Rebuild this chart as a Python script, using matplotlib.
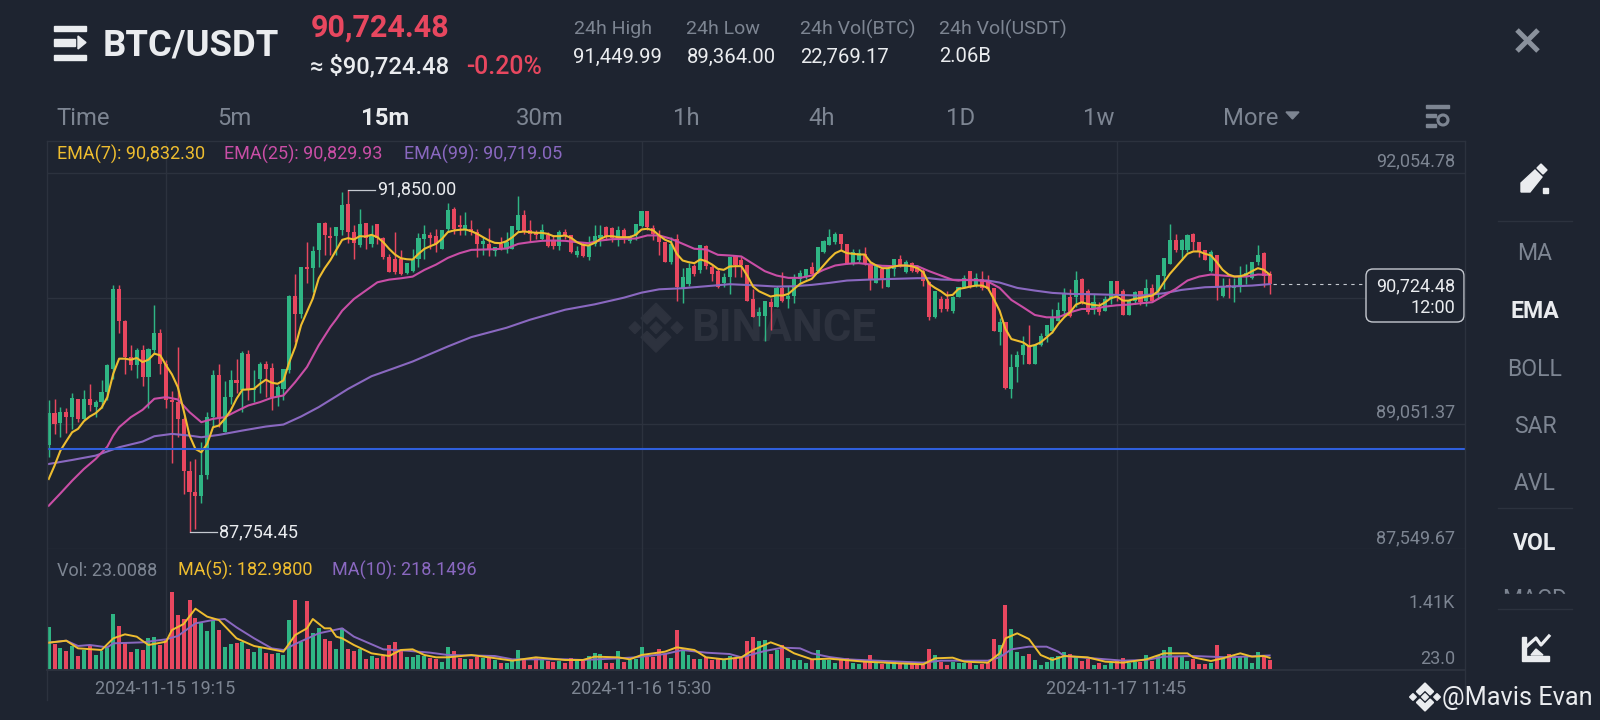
import matplotlib
matplotlib.use("Agg")
import matplotlib.pyplot as plt
from matplotlib.patches import Rectangle, Polygon, FancyBboxPatch
import numpy as np

plt.rcParams['font.family'] = ['Roboto', 'DejaVu Sans']

opens = [88799,89175,89055,89183,89127,89347,89107,89347,89247,89307,
89427,89707,90655,90279,89847,89747,89935,89607,89927,90139,
89767,89327,89307,89107,88487,88227,88187,88439,89127,89627,
88947,89367,89567,89447,89887,89447,89587,89759,89719,89375,
89467,89695,90575,90367,90919,90907,91127,91455,91299,91299,
91361,91673,91341,91193,91449,91201,91441,91273,91049,91021,
91021,90849,90881,91021,91261,91301,91289,91141,91381,91621,
91421,91381,91381,91341,91201,91201,91121,91201,91141,91141,
91361,91541,91361,91341,91261,91301,91249,91181,91341,91301,
91073,91193,91049,91201,91273,91401,91389,91273,91369,91241,
91301,91409,91590,91394,91302,91222,90982,91262,90662,90722,
90930,90890,91170,90922,90882,90730,90810,91050,91002,90942,
90542,90342,90342,90502,90450,90674,90542,90582,90782,90802,
90922,90882,91102,91182,91222,91322,91202,90962,91002,91082,
90962,90730,90902,90690,90902,91022,90862,90970,90922,90882,
90742,90322,90542,90542,90402,90570,90682,90874,90702,90782,
90762,90674,90142,90262,89462,89722,89874,89994,89762,89994,
90102,90162,90282,90402,90562,90562,90782,90642,90434,90434,
90402,90542,90762,90642,90354,90522,90634,90522,90674,90634,
90822,90962,91250,91122,91130,91314,91222,91122,90874,91062,
90582,90702,90674,90690,90822,90794,90982,91090,90842]

closes = [89175,89047,89183,89135,89351,89107,89347,89267,89307,89427,
89747,90655,90279,89847,89747,89935,89607,89947,90139,89767,
89327,89303,89107,88487,88227,88187,88439,89135,89627,89107,
89367,89567,89535,89895,89447,89467,89759,89707,89367,89487,
89707,90575,90367,90919,90895,91119,91455,91307,91275,91407,
91661,91341,91213,91441,91273,91301,91273,91049,90861,90861,
90841,90969,91021,91273,91321,91273,91201,91369,91609,91381,
91401,91421,91341,91201,91241,91141,91169,91141,91221,91409,
91541,91341,91321,91301,91361,91181,91181,91341,91301,91101,
91121,91061,91181,91289,91301,91281,91273,91361,91273,91289,
91441,91593,91402,91322,91222,90982,91202,90682,90802,90914,
90842,91182,90930,90842,90690,90802,91042,90942,90942,90522,
90322,90382,90522,90450,90674,90522,90582,90782,90850,90902,
90842,91162,91234,91282,91322,91194,90970,91102,91090,90970,
90782,90930,90782,90902,91022,90942,90982,90882,90862,90762,
90322,90642,90422,90422,90570,90682,90794,90682,90794,90674,
90662,90162,90262,89474,89722,89874,89994,89762,89994,90102,
90234,90314,90410,90610,90342,90770,90502,90382,90502,90382,
90542,90762,90602,90354,90522,90622,90502,90674,90522,90834,
91034,91242,91122,91250,91302,91222,91114,91010,91102,90682,
90702,90690,90702,90822,90850,90982,91062,90822,90724.48]

highs = [89327,89343,89247,89239,89415,89347,89447,89527,89327,89575,
89767,90703,90703,90295,89991,89959,89991,89959,90475,90187,
89807,89435,89967,89127,88599,88627,88827,89187,89687,89759,
89559,89695,89827,89919,89935,89687,89787,89799,89775,89507,
89707,90583,90839,90927,91227,91175,91455,91459,91399,91407,
91821,91850,91421,91621,91449,91421,91441,91281,91081,91341,
91129,90969,91141,91329,91421,91341,91381,91369,91689,91641,
91541,91581,91489,91381,91281,91393,91169,91281,91341,91409,
91769,91609,91489,91361,91441,91341,91301,91369,91381,91301,
91181,91221,91289,91421,91421,91409,91401,91409,91393,91301,
91441,91593,91590,91422,91362,91222,91282,91314,90914,90970,
90962,91182,91182,90942,90902,90850,91042,91062,91042,90942,
90662,90442,90522,90554,90702,90862,90702,90842,90890,90902,
90982,91162,91242,91382,91342,91322,91202,91142,91142,91162,
90982,90930,90902,90922,91022,91062,91002,90982,90942,90902,
90762,90642,90582,90642,90582,90690,90834,90874,90850,90874,
90834,90674,90314,90262,89882,89922,90102,90234,89994,90130,
90234,90422,90502,90674,90662,90882,90794,90662,90602,90502,
90582,90762,90762,90662,90542,90634,90634,90782,90722,90834,
91034,91442,91314,91262,91314,91330,91222,91130,91130,91062,
90794,90794,90794,90930,90962,90982,91182,91102,90882]

lows = [88647,88927,88895,88935,88987,89067,89095,89199,89135,89239,
89327,89587,90139,89639,89687,89599,89495,89239,89895,89647,
89239,88575,88887,88207,87754.45,87787,88095,88387,89015,89007,
88947,89287,89415,89187,89327,89307,89415,89367,89215,89255,
89335,89655,90027,90319,90735,90627,90919,91067,91067,91067,
91301,91209,91021,91161,91141,91161,91201,91021,90861,90841,
90833,90841,90861,90929,91021,91141,91101,91141,91341,91321,
91301,91301,91301,91041,91073,91061,91061,91129,91089,91141,
91341,91321,91221,91261,91249,91169,91141,91129,91261,91089,
91049,91041,91013,91181,91181,91249,91221,91181,91209,91209,
91249,91401,91370,91250,91062,90982,90962,90514,90490,90702,
90822,90850,90902,90762,90674,90690,90602,90810,90802,90522,
90322,90222,90042,90170,90450,90502,90434,90490,90722,90782,
90834,90850,91090,91182,91202,91130,90962,90942,90982,90942,
90650,90730,90674,90690,90822,90922,90850,90862,90850,90702,
90290,90314,90390,90394,90370,90562,90674,90674,90682,90650,
90650,90162,89994,89462,89354,89542,89762,89762,89762,89982,
90022,90130,90274,90342,90322,90450,90482,90362,90362,90354,
90402,90482,90522,90354,90354,90482,90474,90462,90502,90542,
90662,90954,91102,91010,91102,91122,91042,91002,90862,90534,
90562,90554,90502,90622,90722,90782,90942,90690,90602]

volumes = [640,390,325,290,360,210,300,360,225,290,325,840,660,400,275,310,300,475,490,375,
460,1170,825,760,1050,775,700,585,750,600,340,390,400,425,315,275,340,260,240,260,
225,750,1050,425,1030,550,625,460,435,310,625,310,290,315,160,210,180,210,375,425,
300,190,200,225,210,175,160,125,340,290,175,160,165,190,175,190,150,100,100,135,
300,150,75,175,150,140,125,140,110,175,140,135,210,250,240,100,110,290,125,150,
160,350,190,190,310,240,175,600,290,225,160,160,190,150,175,150,210,175,200,435,
500,435,450,240,300,375,175,150,150,110,150,300,150,150,110,160,175,100,90,125,
225,125,90,100,125,90,90,90,75,75,310,225,125,75,125,110,110,100,75,90,
110,465,375,970,610,275,210,240,150,75,115,190,210,275,240,190,135,160,75,110,
75,100,150,175,110,125,125,225,140,225,300,350,190,210,140,160,90,85,110,375,
175,240,175,210,210,110,275,210,150]

ema7 = [88387,88547,88727,88839,88947,88987,89079,89135,89175,89239,
89367,89647,89827,89827,89815,89835,89787,89815,89887,89867,
89747,89639,89487,89207,88907,88747,88707,88807,89007,89027,
89107,89207,89347,89455,89459,89467,89527,89575,89539,89527,
89567,89787,89967,90227,90387,90547,90787,90907,91007,91127,
91249,91269,91253,91293,91289,91309,91281,91221,91141,91073,
91029,91017,91013,91081,91141,91173,91201,91261,91341,91361,
91369,91373,91353,91321,91281,91241,91213,91209,91233,91281,
91341,91349,91341,91333,91333,91321,91293,91293,91301,91273,
91221,91189,91181,91213,91261,91293,91293,91281,91281,91281,
91309,91373,91382,91362,91302,91250,91222,91082,91002,90982,
90970,91014,90994,90954,90902,90890,90930,90934,90934,90822,
90690,90634,90602,90570,90586,90582,90602,90662,90722,90754,
90782,90862,90942,91022,91090,91122,91090,91082,91074,91074,
90982,90942,90910,90910,90930,90942,90942,90934,90910,90862,
90722,90674,90634,90582,90590,90662,90674,90690,90702,90702,
90674,90542,90402,90182,90062,90042,90022,89974,89990,90022,
90082,90142,90242,90322,90382,90474,90502,90482,90470,90462,
90502,90554,90570,90522,90522,90542,90554,90570,90582,90634,
90742,90842,90922,91002,91082,91110,91110,91082,91062,90982,
90890,90834,90810,90814,90834,90874,90910,90890,90832.30]

ema25_x = [0,2,4,6,8,10,11,12,14,16,18,20,22,24,26,28,30,32,34,36,38,40,42,44,46,48,49,50,52,54,56,58,60,62,64,66,68,70,72,74,76,78,80,82,84,86,88,90,92,94,96,98,100,102,104,106,108,110,112,114,116,118,120,122,124,126,128,130,132,134,136,138,140,142,144,146,148,150,152,154,155,156,158,160,162,164,166,168,170,172,174,176,178,180,182,184,186,188,190,192,194,196,198,200,202,204,206,208]
ema25_y = [88067,88215,88367,88507,88627,88775,88907,89007,89127,89215,89347,89367,89339,89187,89067,89107,89127,89199,89267,89307,89359,89387,89547,89727,89987,90207,90300,90401,90541,90641,90741,90773,90789,90809,90889,90953,91033,91089,91129,91133,91137,91145,91201,91221,91237,91241,91237,91221,91209,91241,91257,91261,91265,91302,91302,91262,91202,91142,91134,91070,91062,91050,90962,90874,90822,90794,90794,90822,90890,90942,90962,90970,90954,90938,90934,90942,90934,90874,90822,90770,90762,90770,90770,90750,90674,90530,90442,90350,90322,90322,90382,90422,90422,90450,90466,90474,90490,90502,90582,90662,90762,90810,90834,90822,90810,90810,90834,90829.93]

ema99_x = [0,4,8,12,16,18,21,24,26,29,33,37,40,43,46,49,51,55,59,62,68,72,78,82,88,93,98,101,104,108,112,116,120,124,127,130,133,136,140,144,148,150,152,155,160,162,165,168,171,174,178,182,186,190,193,197,201,205,208]
ema99_y = [88567,88615,88667,88767,88835,88899,88927,88907,88887,88915,88967,89015,89039,89135,89247,89377,89465,89617,89717,89793,89973,90085,90197,90293,90413,90477,90557,90617,90657,90670,90694,90718,90706,90690,90694,90710,90734,90762,90774,90782,90790,90790,90774,90770,90762,90738,90674,90642,90614,90602,90598,90590,90582,90610,90650,90682,90690,90702,90719.05]

ma5_x = [0,3,5,9,11,13,15,17,20,21,23,25,27,29,32,35,38,40,42,44,45,47,48,49,50,52,55,58,60,62,64,66,68,72,75,79,83,88,91,93,97,99,101,105,107,110,112,115,118,120,123,125,127,130,133,139,145,149,151,154,156,160,162,163,165,167,169,171,173,177,180,183,187,190,194,195,198,200,203,205,207,208]
ma5_y = [410,440,325,300,475,535,500,375,425,600,690,920,800,750,475,360,310,275,525,625,765,625,625,500,475,375,250,210,300,310,225,190,190,225,190,140,190,150,150,200,190,160,225,275,340,300,190,160,190,300,415,350,250,160,170,125,100,85,175,185,125,110,250,475,550,465,225,150,210,190,125,110,160,250,250,190,135,175,250,200,210,182.98]

ma10_x = [0,3,5,7,10,11,16,20,22,25,28,30,32,35,38,40,42,46,50,52,57,61,65,68,76,79,88,91,97,100,105,108,112,116,118,122,125,128,130,133,136,141,149,152,160,162,164,167,170,172,173,178,183,187,190,195,201,208]
ma10_y = [410,440,360,375,340,400,415,460,510,700,750,765,640,475,325,300,390,550,625,500,310,290,260,225,210,160,160,150,175,190,240,300,260,240,190,285,335,325,250,195,160,140,110,140,140,190,310,350,350,275,210,175,140,150,200,210,190,218.15]

time_ticks = [20, 101, 182]
time_labels = ['2024-11-15 19:15', '2024-11-16 15:30', '2024-11-17 11:45']
price_grid = [92054.78, 90553.07, 89051.37, 87549.67]
price_labels = ['92,054.78', '', '89,051.37', '87,549.67']
last_price = 90724.48
hline_price = 88746
high_price, high_idx = 91850.00, 51
low_price, low_idx = 87754.45, 24

BG = '#1e2430'
GRID = '#2c323e'
GREEN = '#2fb584'
RED = '#e8475f'
YEL = '#eebd2f'
MAG = '#c94ea6'
PUR = '#8a68c0'
GRAY = '#7d8592'
WHITE = '#eaecef'
SMALL = 12.95

W, H = 1600, 720
fig = plt.figure(figsize=(W/100, H/100), dpi=100, facecolor=BG)

def add_px_axes(x0, y0, x1, y1, z):
    a = fig.add_axes([x0/W, 1-y1/H, (x1-x0)/W, (y1-y0)/H], zorder=z)
    return a

back = add_px_axes(0, 0, W, H, 0)
back.set_xlim(0, W); back.set_ylim(H, 0); back.axis('off')
ui = add_px_axes(0, 0, W, H, 10)
ui.set_xlim(0, W); ui.set_ylim(H, 0); ui.axis('off'); ui.patch.set_alpha(0)

L, R, T_, M, B = 47, 1465, 141, 549, 670
DX, X0 = 5.87, 48.67
xl = ((L-X0)/DX, (R-X0)/DX)
PP = (92054.78-87549.67)/(549-172.5)

ax = add_px_axes(L, T_, R, M, 5)
ax.patch.set_alpha(0)
ax.set_xlim(*xl)
ax.set_ylim(87549.67, 87549.67+(M-T_)*PP)
vol = add_px_axes(L, M, R, B, 5)
vol.patch.set_alpha(0)
vol.set_xlim(*xl)
vol.set_ylim(0, (B-M)*15)
for a in (ax, vol):
    for s in a.spines.values():
        s.set_visible(False)
    a.set_yticks([])
    a.set_xticks(time_ticks)
    a.tick_params(length=0, labelbottom=False)
    a.grid(axis='x', color=GRID, lw=1.0, zorder=0)
    a.set_axisbelow(True)
ax.set_yticks(price_grid)
ax.tick_params(labelleft=False)
ax.grid(axis='y', color=GRID, lw=1.0, zorder=0)

idx = np.arange(len(opens))
o, h, l, c = map(np.array, (opens, highs, lows, closes))
cols = [GREEN if cc >= oo else RED for oo, cc in zip(o, c)]
ax.vlines(idx, l, h, colors=cols, lw=1.05, zorder=2)
ax.bar(idx, np.maximum(np.abs(c-o), 14), bottom=np.minimum(o, c), width=0.7, color=cols, zorder=3)

ax.plot(idx, ema7, color=YEL, lw=1.5, zorder=6, solid_joinstyle='round')
ax.plot(ema25_x, ema25_y, color=MAG, lw=1.5, zorder=5, solid_joinstyle='round')
ax.plot(ema99_x, ema99_y, color=PUR, lw=1.5, zorder=4, solid_joinstyle='round')
ax.axhline(hline_price, color='#2f5fdc', lw=1.5, zorder=7)
ax.plot([idx[-1]+0.5, (1365-X0)/DX], [last_price, last_price], color='#c5c9d0', lw=0.8, dashes=(3, 4), zorder=2)

ax.plot([high_idx, high_idx+4.6], [high_price, high_price], color='#c5c9d0', lw=0.9, zorder=8)
ax.text(high_idx+5.0, high_price, '91,850.00', color=WHITE, fontsize=SMALL, va='center', ha='left', zorder=8)
ax.plot([low_idx, low_idx+4.7], [low_price, low_price], color='#c5c9d0', lw=0.9, zorder=8)
ax.text(low_idx+5.1, low_price, '87,754.45', color=WHITE, fontsize=SMALL, va='center', ha='left', zorder=8)

vol.bar(idx, volumes, width=0.68, color=cols, zorder=2)
vol.plot(ma5_x, ma5_y, color=YEL, lw=1.4, zorder=4)
vol.plot(ma10_x, ma10_y, color=PUR, lw=1.4, zorder=3)

# frame
for x in (L, R):
    ui.plot([x, x], [T_, 700], color=GRID, lw=1.0)
ui.plot([L, R], [T_, T_], color=GRID, lw=1.0)
ui.plot([L, R], [B, B], color=GRID, lw=1.4)

def T(x, y, s, color=GRAY, size=12, ha='left', weight='normal', **kw):
    return ui.text(x, y, s, color=color, fontsize=size, ha=ha, va='center', weight=weight, **kw)

# header
ui.add_patch(Rectangle((54, 25.5), 32, 5, color=WHITE))
ui.add_patch(Rectangle((54, 39), 21, 7, color=WHITE))
ui.add_patch(Polygon([[78, 36], [86, 42.5], [78, 49]], color=WHITE))
ui.add_patch(Rectangle((54, 54.5), 32, 5.5, color=WHITE))
T(103, 46, 'BTC/USDT', WHITE, 26.3, weight='bold')
T(311, 28, '90,724.48', RED, 22, weight='bold')
T(310, 67, '≈ $90,724.48', WHITE, 17.1, weight='medium')
T(466, 67, '-0.20%', RED, 17.9, weight='medium')
for x, a_, b_ in [(573.5, '24h High', '91,449.99'), (686.5, '24h Low', '89,364.00'),
                  (800, '24h Vol(BTC)', '22,769.17'), (939, '24h Vol(USDT)', '2.06B')]:
    T(x, 29, a_, GRAY, 14)
    T(x, 57, b_, WHITE, 14.6)

# tabs
TAB_Y = 118.5
T(56, TAB_Y, 'Time', GRAY, 17.2)
for x, s in [(234.5, '5m'), (540, '30m'), (686.5, '1h'), (822, '4h'), (961, '1D'), (1099, '1w')]:
    T(x, TAB_Y, s, GRAY, 17.2, ha='center')
T(385.5, TAB_Y, '15m', WHITE, 17.2, ha='center', weight='bold')
T(1223, TAB_Y, 'More', GRAY, 17.2)
ui.add_patch(Polygon([[1286, 112], [1299, 112], [1292.5, 119]], color=GRAY))
# settings icon
for y_, x0_, x1_ in [(105, 1426, 1449), (114, 1426, 1436), (124, 1426, 1436)]:
    ui.add_patch(Rectangle((x0_, y_), x1_-x0_, 3, color=GRAY))
ui.add_patch(plt.Circle((1443, 120), 5, fill=False, ec=GRAY, lw=2.2))

# legends
T(57, 154.5, 'EMA(7): 90,832.30', YEL, SMALL)
T(224.5, 154.5, 'EMA(25): 90,829.93', MAG, SMALL)
T(404, 154.5, 'EMA(99): 90,719.05', PUR, SMALL)
T(57, 570.5, 'Vol: 23.0088', GRAY, SMALL)
T(177.5, 570.5, 'MA(5): 182.9800', YEL, SMALL)
T(331.5, 570.5, 'MA(10): 218.1496', PUR, SMALL)

# price axis labels
for y, s in [(161.5, price_labels[0]), (412.5, price_labels[2]), (538.5, price_labels[3]), (603.5, '1.41K'), (659.5, '23.0')]:
    T(1455, y, s, GRAY, SMALL, ha='right')
for t, lab in zip(time_ticks, time_labels):
    T(X0+DX*t-0.5, 689, lab, GRAY, SMALL, ha='center')

# current price box
ui.add_patch(FancyBboxPatch((1370, 273), 90, 45, boxstyle='round,pad=4,rounding_size=7', fc=BG, ec='#c5c9d0', lw=1.0))
T(1455, 286, '90,724.48', WHITE, SMALL, ha='right')
T(1455, 308, '12:00', WHITE, SMALL, ha='right')

# sidebar
SX = 1535
for y, s, col, wt in [(254, 'MA', GRAY, 'normal'), (312, 'EMA', WHITE, 'bold'), (369, 'BOLL', GRAY, 'normal'),
                      (426.5, 'SAR', GRAY, 'normal'), (483.5, 'AVL', GRAY, 'normal'), (543, 'VOL', WHITE, 'bold'),
                      (600, 'MACD', GRAY, 'normal')]:
    T(SX, y, s, col, 16.6, ha='center', weight=wt)
ui.add_patch(Rectangle((1490, 594), 90, 30, color=BG, zorder=5))
for y in (220.5, 508, 609):
    ui.plot([1498, 1572], [y, y], color=GRID, lw=1.0, zorder=6)
# close icon
for (a0, b0, a1, b1) in [(1517, 30, 1538, 51), (1517, 51, 1538, 30)]:
    ui.plot([a0, a1], [b0, b1], color='#8a919c', lw=3.6, solid_capstyle='butt')
# pencil icon
ui.add_patch(Polygon([[1521, 192], [1521, 183], [1535, 170], [1542, 177], [1530, 192]], color=WHITE))
ui.add_patch(Polygon([[1537, 168], [1541, 164], [1547, 170], [1543, 174]], color=WHITE))
ui.add_patch(Rectangle((1543, 188), 5, 5, color=WHITE))
# chart icon
ui.add_patch(Polygon([[1522, 637], [1526, 637], [1526, 656], [1549, 656], [1549, 661], [1522, 661]], color=WHITE))
ui.plot([1527, 1536, 1541, 1549], [646, 638, 645, 636], color=WHITE, lw=2.3)
ui.add_patch(Polygon([[1531, 655], [1536, 649], [1543, 655]], color=WHITE))

def logo(a, cx, cy, s, col):
    chev = [(0, -1), (.61, -.39), (.37, -.15), (0, -.51), (-.37, -.15), (-.61, -.39)]
    a.add_patch(Polygon([[cx+u*s, cy+v*s] for u, v in chev], color=col))
    a.add_patch(Polygon([[cx+u*s, cy-v*s] for u, v in chev], color=col))
    for px in (-.86, 0, .86):
        r = .24
        a.add_patch(Polygon([[cx+px*s, cy-r*s], [cx+(px+r)*s, cy], [cx+px*s, cy+r*s], [cx+(px-r)*s, cy]], color=col))

# watermarks
logo(back, 656, 327.7, 24.5, '#2d323e')
back.text(691, 329, 'BINANCE', color='#2d323e', fontsize=31.5, weight='bold', va='center', ha='left')
logo(ui, 1425, 697, 14, WHITE)
T(1442, 698.5, '@Mavis Evan', WHITE, 18.2)

fig.savefig('out.png', dpi=100, facecolor=BG)
